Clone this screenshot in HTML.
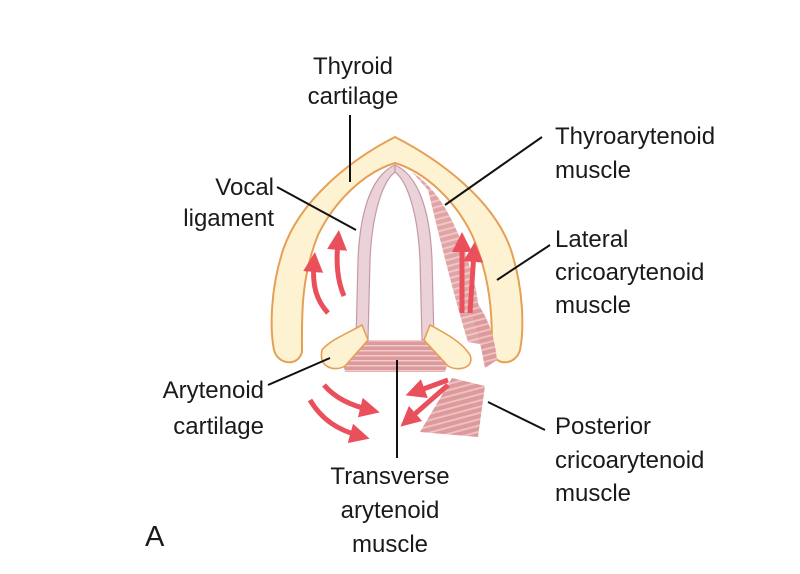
<!DOCTYPE html>
<html><head><meta charset="utf-8"><style>
html,body{margin:0;padding:0;background:#fff;}
svg{display:block}
text{font-family:"Liberation Sans",Arial,sans-serif;font-size:24px;fill:#1a1a1a}
</style></head><body>
<svg width="800" height="574" viewBox="0 0 800 574" xmlns="http://www.w3.org/2000/svg">
<defs>
<marker id="ah" markerWidth="4" markerHeight="4" refX="2" refY="2" orient="auto" markerUnits="strokeWidth">
<path d="M0,0 L4,2 L0,4 z" fill="#e9505c"/></marker>
<pattern id="mus" width="6" height="6" patternUnits="userSpaceOnUse" patternTransform="rotate(75)">
<rect width="6" height="6" fill="#dc9a9c"/><rect width="2" height="6" fill="#eec0c0"/></pattern>
<pattern id="mus2" width="5" height="5" patternUnits="userSpaceOnUse">
<rect width="5" height="5" fill="#dc9a9c"/><rect width="5" height="1.5" fill="#f1caca"/></pattern>
</defs>
<path d="M395,137 C350,160 300,200 283,250 C270,290 270,330 274,350 C278,365 298,367 302,352 C302,320 300,280 318,235 C335,200 365,172 395,163 C425,172 455,200 472,235 C492,280 492,320 492,352 C496,367 516,365 520,350 C524,330 524,290 511,250 C494,200 440,160 395,137 Z" fill="#fdf3d3" stroke="#e6a055" stroke-width="2"/>
<path d="M412,172 C440,190 462,230 476,290 L485,345 L468,342 C455,300 440,240 428,190 Z" fill="url(#mus)" opacity="0.9"/>
<path d="M475,300 C490,320 495,340 497,360 L485,368 C480,340 475,320 468,305 Z" fill="url(#mus)"/>
<path d="M338,340 L455,340 L445,372 L345,372 Z" fill="url(#mus2)"/>
<path d="M395,165 C372,175 360,210 358,260 L356,340 L368,340 L370,260 C372,215 382,182 395,172 Z" fill="#ead2d8" stroke="#c49aa4" stroke-width="1.2"/>
<path d="M395,165 C418,175 430,210 432,260 L434,340 L422,340 L420,260 C418,215 408,182 395,172 Z" fill="#ead2d8" stroke="#c49aa4" stroke-width="1.2"/>
<path d="M322,350 C330,340 348,333 362,325 L368,340 L345,366 C335,372 318,368 322,350 Z" fill="#fdf3d3" stroke="#e6a055" stroke-width="1.6"/>
<path d="M470,355 C462,342 445,333 430,325 L424,340 L448,366 C458,372 475,368 470,355 Z" fill="#fdf3d3" stroke="#e6a055" stroke-width="1.6"/>
<path d="M452,378 L485,386 L478,437 L420,432 Z" fill="url(#mus)"/>
<g fill="none" stroke="#e9505c" stroke-width="5" marker-end="url(#ah)">
<path d="M328,313 C316,300 312,285 314,262"/>
<path d="M344,296 C337,280 336,262 338,240"/>
<path d="M462,313 L462,242"/>
<path d="M470,313 L474,252"/>
<path d="M324,385 C335,398 350,405 370,410"/>
<path d="M310,400 C322,420 338,430 360,436"/>
<path d="M448,380 L415,392"/>
<path d="M448,385 L408,420"/>
</g>
<g stroke="#111" stroke-width="2" fill="none">
<line x1="350" y1="115" x2="350" y2="182"/>
<line x1="277" y1="187" x2="356" y2="230"/>
<line x1="542" y1="137" x2="445" y2="205"/>
<line x1="550" y1="245" x2="497" y2="280"/>
<line x1="268" y1="385" x2="330" y2="358"/>
<line x1="397" y1="360" x2="397" y2="458"/>
<line x1="488" y1="402" x2="545" y2="430"/>
</g>
<text x="353" y="74" text-anchor="middle">Thyroid</text>
<text x="353" y="104" text-anchor="middle">cartilage</text>
<text x="274" y="195" text-anchor="end">Vocal</text>
<text x="274" y="226" text-anchor="end">ligament</text>
<text x="555" y="144">Thyroarytenoid</text>
<text x="555" y="178">muscle</text>
<text x="555" y="247">Lateral</text>
<text x="555" y="280">cricoarytenoid</text>
<text x="555" y="313">muscle</text>
<text x="264" y="398" text-anchor="end">Arytenoid</text>
<text x="264" y="434" text-anchor="end">cartilage</text>
<text x="555" y="434">Posterior</text>
<text x="555" y="468">cricoarytenoid</text>
<text x="555" y="501">muscle</text>
<text x="390" y="484" text-anchor="middle">Transverse</text>
<text x="390" y="518" text-anchor="middle">arytenoid</text>
<text x="390" y="552" text-anchor="middle">muscle</text>
<text x="145" y="546" style="font-size:29px">A</text>
</svg>
</body></html>
